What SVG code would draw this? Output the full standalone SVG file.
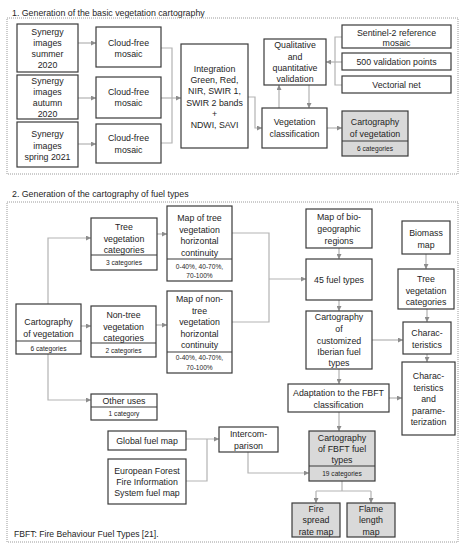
<svg xmlns="http://www.w3.org/2000/svg" width="466" height="550" viewBox="0 0 466 550">
<style>
text{font-family:"Liberation Sans",Arial,sans-serif;font-size:8.8px;fill:#1e1e1e;text-anchor:middle}
.t{text-anchor:start;font-size:8.8px}
.s{font-size:6.6px}
.b{fill:#fff;stroke:#3a3a3a;stroke-width:1.2}
.g{fill:#d9d9d9;stroke:#3a3a3a;stroke-width:1.2}
.f{fill:none;stroke:#9a9a9a;stroke-width:1;stroke-dasharray:1 1}
.c path{fill:none;stroke:#b3b3b3;stroke-width:1.2}
.c path.a{marker-end:url(#ah)}
</style>
<defs>
<marker id="ah" markerWidth="5" markerHeight="5" refX="5" refY="2.5" orient="auto" markerUnits="userSpaceOnUse">
<path d="M0,0 L5,2.5 L0,5 z" fill="#8c8c8c"/>
</marker>
</defs>
<rect width="466" height="550" fill="#fff"/>
<text class="t" x="12" y="15.5">1. Generation of the basic vegetation cartography</text>
<rect class="f" x="7" y="18" width="451" height="156"/>
<text class="t" x="12" y="197">2. Generation of the cartography of fuel types</text>
<rect class="f" x="7" y="202" width="451" height="340"/>

<g class="c">
<path class="a" d="M78,43 H96"/>
<path class="a" d="M78,98 H96"/>
<path class="a" d="M78,144 H96"/>
<path d="M161,48 H172 V143 H161"/>
<path class="a" d="M161,98 H181"/>
<path class="a" d="M248,97 H255 V128 H262"/>
<path class="a" d="M279,108 V85"/>
<path class="a" d="M309,85 V108"/>
<path d="M342,37 H335 V85 H342"/>
<path class="a" d="M342,62 H326"/>
<path class="a" d="M327,128 H342"/>

<path class="a" d="M48,304 V238 H91"/>
<path class="a" d="M81,326 H91"/>
<path class="a" d="M48,354 V400 H91"/>
<path class="a" d="M157,234 H167"/>
<path class="a" d="M156,325 H167"/>
<path d="M232,233 H269 V322 H232"/>
<path class="a" d="M269,279 H306"/>
<path class="a" d="M339,248 V259"/>
<path class="a" d="M339,300 V311"/>
<path class="a" d="M426,254 V269"/>
<path class="a" d="M427,309 V322"/>
<path class="a" d="M372,340 H403"/>
<path class="a" d="M427,354 V362"/>
<path class="a" d="M339,369 V384"/>
<path class="a" d="M389,398 H402"/>
<path class="a" d="M339,412 V431"/>
<path class="a" d="M186,439 H219"/>
<path d="M186,481 H207 V439"/>
<path class="a" d="M248,452 V473 H309"/>
<path d="M342,481 V491 M316,491 H371"/>
<path class="a" d="M316,491 V503"/>
<path class="a" d="M371,491 V503"/>
</g>

<g id="summer"><rect class="b" x="17" y="24" width="61" height="48"/><text x="47.5" y="35">Synergy</text><text x="47.5" y="46">images</text><text x="47.5" y="57">summer</text><text x="47.5" y="68">2020</text></g>
<g id="autumn"><rect class="b" x="17" y="75" width="61" height="44"/><text x="47.5" y="83.5">Synergy</text><text x="47.5" y="94.5">images</text><text x="47.5" y="105.5">autumn</text><text x="47.5" y="116.5">2020</text></g>
<g id="spring"><rect class="b" x="17" y="122" width="61" height="45"/><text x="47.5" y="137">Synergy</text><text x="47.5" y="148.5">images</text><text x="47.5" y="160">spring 2021</text></g>
<g id="cf1"><rect class="b" x="96" y="27" width="65" height="40"/><text x="128.5" y="46">Cloud-free</text><text x="128.5" y="57">mosaic</text></g>
<g id="cf2"><rect class="b" x="96" y="77" width="65" height="41"/><text x="128.5" y="95">Cloud-free</text><text x="128.5" y="106">mosaic</text></g>
<g id="cf3"><rect class="b" x="96" y="124" width="65" height="39"/><text x="128.5" y="141">Cloud-free</text><text x="128.5" y="152.5">mosaic</text></g>
<g id="integration"><rect class="b" x="181" y="44" width="67" height="104"/><text x="214.5" y="72">Integration</text><text x="214.5" y="83.2">Green, Red,</text><text x="214.5" y="94.4">NIR, SWIR 1,</text><text x="214.5" y="105.6">SWIR 2 bands</text><text x="214.5" y="116.8">+</text><text x="214.5" y="128">NDWI, SAVI</text></g>
<g id="qual"><rect class="b" x="264" y="39" width="62" height="46"/><text x="295" y="48">Qualitative</text><text x="295" y="59.5">and</text><text x="295" y="71">quantitative</text><text x="295" y="82">validation</text></g>
<g id="sentinel"><rect class="b" x="342" y="25" width="109" height="23"/><text x="396.5" y="35.5">Sentinel-2 reference</text><text x="396.5" y="46">mosaic</text></g>
<g id="points"><rect class="b" x="342" y="53" width="109" height="17"/><text x="396.5" y="65">500 validation points</text></g>
<g id="vectorial"><rect class="b" x="342" y="76" width="109" height="17"/><text x="396.5" y="87.5">Vectorial net</text></g>
<g id="vegclass"><rect class="b" x="262" y="108" width="65" height="40"/><text x="294.5" y="125">Vegetation</text><text x="294.5" y="137">classification</text></g>
<g id="cartoveg1"><rect class="g" x="342" y="111" width="66" height="45"/><path d="M342,141 H408" stroke="#3a3a3a" stroke-width="1.2"/><text x="375" y="125">Cartography</text><text x="375" y="137">of vegetation</text><text class="s" x="375" y="150.5">6 categories</text></g>

<g id="treecat"><rect class="b" x="91" y="218" width="66" height="52"/><path d="M91,255 H157" stroke="#3a3a3a" stroke-width="1.2"/><text x="124" y="230">Tree</text><text x="124" y="241.5">vegetation</text><text x="124" y="253">categories</text><text class="s" x="124" y="265">3 categories</text></g>
<g id="maptree"><rect class="b" x="167" y="206" width="65" height="75"/><path d="M167,259 H232" stroke="#3a3a3a" stroke-width="1.2"/><text x="199.5" y="221">Map of tree</text><text x="199.5" y="232.5">vegetation</text><text x="199.5" y="244">horizontal</text><text x="199.5" y="255.5">continuity</text><text class="s" x="199.5" y="268.5">0-40%, 40-70%,</text><text class="s" x="199.5" y="278">70-100%</text></g>
<g id="cartoveg2"><rect class="b" x="16" y="304" width="65" height="50"/><path d="M16,341 H81" stroke="#3a3a3a" stroke-width="1.2"/><text x="48.5" y="325">Cartography</text><text x="48.5" y="336.5">of vegetation</text><text class="s" x="48.5" y="350.5">6 categories</text></g>
<g id="nontree"><rect class="b" x="91" y="306" width="65" height="51"/><path d="M91,343 H156" stroke="#3a3a3a" stroke-width="1.2"/><text x="123.5" y="318">Non-tree</text><text x="123.5" y="329.5">vegetation</text><text x="123.5" y="341">categories</text><text class="s" x="123.5" y="353">2 categories</text></g>
<g id="mapnontree"><rect class="b" x="167" y="291" width="65" height="82"/><path d="M167,352 H232" stroke="#3a3a3a" stroke-width="1.2"/><text x="199.5" y="302">Map of non-</text><text x="199.5" y="313.5">tree</text><text x="199.5" y="325">vegetation</text><text x="199.5" y="336.5">horizontal</text><text x="199.5" y="348">continuity</text><text class="s" x="199.5" y="360">0-40%, 40-70%,</text><text class="s" x="199.5" y="369.5">70-100%</text></g>
<g id="otheruses"><rect class="b" x="91" y="394" width="66" height="26"/><path d="M91,407 H157" stroke="#3a3a3a" stroke-width="1.2"/><text x="124" y="404">Other uses</text><text class="s" x="124" y="416">1 category</text></g>
<g id="biogeo"><rect class="b" x="306" y="209" width="66" height="39"/><text x="339" y="220">Map of bio-</text><text x="339" y="232">geographic</text><text x="339" y="244">regions</text></g>
<g id="fuel45"><rect class="b" x="306" y="259" width="66" height="41"/><text x="339" y="282.5">45 fuel types</text></g>
<g id="custom"><rect class="b" x="306" y="311" width="66" height="58"/><text x="339" y="320">Cartography</text><text x="339" y="332">of</text><text x="339" y="343.5">customized</text><text x="339" y="355">Iberian fuel</text><text x="339" y="366">types</text></g>
<g id="biomass"><rect class="b" x="402" y="221" width="48" height="33"/><text x="426" y="236">Biomass</text><text x="426" y="247.5">map</text></g>
<g id="treecat2"><rect class="b" x="398" y="269" width="56" height="40"/><text x="426" y="282">Tree</text><text x="426" y="293.5">vegetation</text><text x="426" y="305">categories</text></g>
<g id="charac"><rect class="b" x="403" y="322" width="48" height="32"/><text x="427" y="336">Charac-</text><text x="427" y="347.5">teristics</text></g>
<g id="charparam"><rect class="b" x="402" y="362" width="53" height="73"/><text x="428.5" y="379">Charac-</text><text x="428.5" y="390.5">teristics</text><text x="428.5" y="402">and</text><text x="428.5" y="413.5">parame-</text><text x="428.5" y="425">terization</text></g>
<g id="adapt"><rect class="b" x="288" y="384" width="101" height="28"/><text x="338.5" y="396">Adaptation to the FBFT</text><text x="338.5" y="407.5">classification</text></g>
<g id="fbft"><rect class="g" x="309" y="431" width="66" height="50"/><path d="M309,466 H375" stroke="#3a3a3a" stroke-width="1.2"/><text x="342" y="440.5">Cartography</text><text x="342" y="452">of FBFT fuel</text><text x="342" y="463">types</text><text class="s" x="342" y="476">19 categories</text></g>
<g id="intercom"><rect class="b" x="219" y="427" width="59" height="25"/><text x="248.5" y="437">Intercom-</text><text x="248.5" y="448.5">parison</text></g>
<g id="global"><rect class="b" x="108" y="431" width="78" height="19"/><text x="147" y="444">Global fuel map</text></g>
<g id="effis"><rect class="b" x="108" y="459" width="78" height="45"/><text x="147" y="474">European Forest</text><text x="147" y="485">Fire Information</text><text x="147" y="496">System fuel map</text></g>
<g id="firespread"><rect class="g" x="292" y="503" width="48" height="34"/><text x="316" y="512">Fire</text><text x="316" y="523">spread</text><text x="316" y="534.5">rate map</text></g>
<g id="flame"><rect class="g" x="347" y="503" width="48" height="34"/><text x="371" y="512">Flame</text><text x="371" y="523">length</text><text x="371" y="534.5">map</text></g>
<text class="t" x="14" y="536.5" style="font-size:8.6px">FBFT: Fire Behaviour Fuel Types [21].</text>
</svg>
